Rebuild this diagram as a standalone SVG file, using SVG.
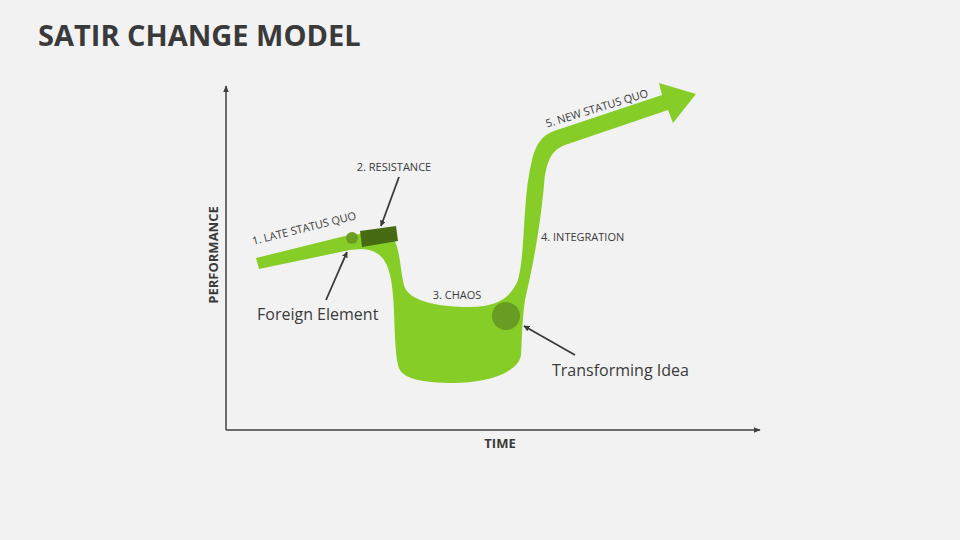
<svg xmlns="http://www.w3.org/2000/svg" width="960" height="540" viewBox="0 0 960 540">
<defs>
<style>
.t{font-family:"Open Sans","Liberation Sans",sans-serif;fill:#3a3a3a}
.s{font-size:11px}
.ax{stroke:#404040;stroke-width:1.5;fill:none}
.pt{stroke:#3a3a3a;stroke-width:1.8;fill:none;marker-end:url(#ah)}
</style>
<marker id="ah" viewBox="0 0 10 10" refX="9" refY="5" markerWidth="6" markerHeight="6" orient="auto-start-reverse" markerUnits="userSpaceOnUse"><path d="M0,0 L10,5 L0,10 z" fill="#3a3a3a"/></marker>
<marker id="ax" viewBox="0 0 10 10" refX="9" refY="5" markerWidth="7" markerHeight="7" orient="auto" markerUnits="userSpaceOnUse"><path d="M0,1 L10,5 L0,9 z" fill="#404040"/></marker>
</defs>
<rect width="960" height="540" fill="#f2f2f2"/>
<text class="t" x="38" y="46" font-size="29" font-weight="bold" fill="#3a3a3a">SATIR CHANGE MODEL</text>
<g id="axes">
<path class="ax" d="M226,430 L226,86" marker-end="url(#ax)"/>
<path class="ax" d="M226,430 L760,430" marker-end="url(#ax)"/>
<text class="t" x="500" y="448" font-size="13" font-weight="bold" text-anchor="middle">TIME</text>
<text class="t" font-size="13" font-weight="bold" text-anchor="middle" transform="translate(218,255) rotate(-90)">PERFORMANCE</text>
</g>
<g id="curve">
<path fill="#86ce27" d="M256,258 L345,236 Q370,231 392,236 C401,248 400,275 405,288 C412,302 440,307 470,307 C500,307 512,295 518,280 C526,250 522,200 532,160 C537,140 545,133 560,129 L662,95 L659,83 L696,94 L673,123 L668,110 L565,145 C552,150 546,160 544,185 C540,230 532,270 525,300 C522,320 522,340 521,355 C518,375 480,383 455,383 C420,383 400,378 398,365 C393,340 396,300 390,275 C386,258 378,250 362,249 L350,250 L259,269 Z"/>
</g>
<g id="resistance"><polygon points="360,231 396,226 398,241 362,247" fill="#466b12"/></g>
<g id="foreign"><circle cx="352" cy="238" r="6" fill="#6a9e24"/></g>
<g id="transforming"><circle cx="506" cy="316" r="14" fill="#679d22"/></g>
<g id="labels">
<text class="t s" transform="translate(305,232) rotate(-14)" text-anchor="middle">1. LATE STATUS QUO</text>
<text class="t s" x="394" y="171" text-anchor="middle">2. RESISTANCE</text>
<text class="t s" x="457" y="299" text-anchor="middle">3. CHAOS</text>
<text class="t s" x="541" y="241">4. INTEGRATION</text>
<text class="t s" transform="translate(598,112) rotate(-17)" text-anchor="middle">5. NEW STATUS QUO</text>
<text class="t" x="257" y="320" font-size="16">Foreign Element</text>
<text class="t" x="552" y="376" font-size="16">Transforming Idea</text>
</g>
<g id="connectors">
<path class="pt" d="M399,177 L381,226"/>
<path class="pt" d="M326,300 L347,252"/>
<path class="pt" d="M575,355 L524,326"/>
</g>
</svg>
